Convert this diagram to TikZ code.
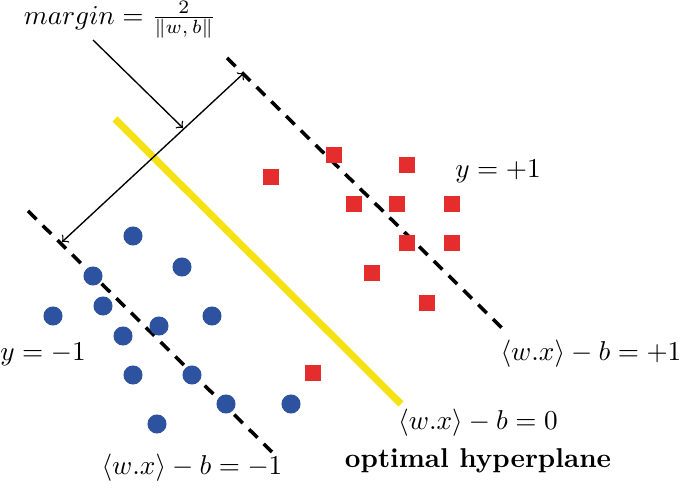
\documentclass[tikz,border=0pt]{standalone}
\usepackage{amssymb}
\usepackage{amsmath}
\usetikzlibrary{arrows,positioning,calc}
\definecolor{negblue}{RGB}{44,82,160}
\definecolor{posred}{RGB}{229,45,45}
\definecolor{hypyellow}{RGB}{246,226,20}

\begin{document}
\begin{tikzpicture}
[x=0.367pt,y=-0.367pt,
Neg/.style={circle,fill=negblue,inner sep=0pt,minimum size=7pt},
Pos/.style={rectangle,fill=posred,inner sep=0pt,minimum size=6.2pt},
hyper/.style={hypyellow,line width=2.6pt},
support/.style={black,line width=1.3pt,dash pattern=on 4.4pt off 3.2pt},
dedge/.style={black,line width=0.5pt,shorten >=.0pt, shorten <=.0pt}]
\useasboundingbox (0,0) rectangle (685,503);
%%
%%%%%%%%%%%%%%%%%%
% Hyperplanes
%%%%%%%%%%%%%%%%%%
\coordinate (H0a) at (115,119);
\coordinate (H0b) at (401,404);
\coordinate (Hpa) at (227,58);
\coordinate (Hpb) at (502,328);
\coordinate (Hma) at (28,211);
\coordinate (Hmb) at (272,452);
\draw [hyper] (H0a) -- (H0b);
\draw [support] (Hpa) -- (Hpb);
\draw [support] (Hma) -- (Hmb);
%%
%%%%%%%%%%%%%%%%%%
% Margin
%%%%%%%%%%%%%%%%%%
\node (M) at (120,20) {$margin=\frac{2}{\|w,\,b\|}$};
\coordinate (Mfrom) at (93,40);
\coordinate (Mto) at (183,128);
\coordinate (Mlow) at (62,242);
\coordinate (Mhigh) at (244,73);
\draw [dedge,<->] (Mlow) -- (Mhigh);
\draw [dedge,->] (Mfrom) -- (Mto);
%%
%%%%%%%%%%%%%%%%%%
% Class -1
%%%%%%%%%%%%%%%%%%
\node[Neg] (n1) at (133,236) {};
\node[Neg] (n2) at (182,267) {};
\node[Neg] (n3) at (93,276) {};
\node[Neg] (n4) at (103,306) {};
\node[Neg] (n5) at (53,316) {};
\node[Neg] (n6) at (212,316) {};
\node[Neg] (n7) at (159,326) {};
\node[Neg] (n8) at (123,336) {};
\node[Neg] (n9) at (133,375) {};
\node[Neg] (n10) at (192,375) {};
\node[Neg] (n11) at (226,404) {};
\node[Neg] (n12) at (291,404) {};
\node[Neg] (n13) at (157,424) {};
%%
%%%%%%%%%%%%%%%%%%
% Class +1
%%%%%%%%%%%%%%%%%%
\node[Pos] (p1) at (334,155) {};
\node[Pos] (p2) at (407,165) {};
\node[Pos] (p3) at (271,177) {};
\node[Pos] (p4) at (354,204) {};
\node[Pos] (p5) at (397,204) {};
\node[Pos] (p6) at (452,204) {};
\node[Pos] (p7) at (407,243) {};
\node[Pos] (p8) at (452,243) {};
\node[Pos] (p9) at (372,273) {};
\node[Pos] (p10) at (427,303) {};
\node[Pos] (p11) at (313,373) {};
%%
%%%%%%%%%%%%%%%%%%
% Labels
%%%%%%%%%%%%%%%%%%
\node (Lpos) at (498,171) {$y=+1$};
\node (Lneg) at (43,354) {$y=-1$};
\node (Lhp) at (591,354) {$\langle w.x\rangle-b=+1$};
\node (Lh0) at (478,423) {$\langle w.x\rangle-b=0$};
\node (Lopt) at (478,461) {\textbf{optimal hyperplane}};
\node (Lhm) at (192,468) {$\langle w.x\rangle-b=-1$};
%%
\end{tikzpicture}
\end{document}
